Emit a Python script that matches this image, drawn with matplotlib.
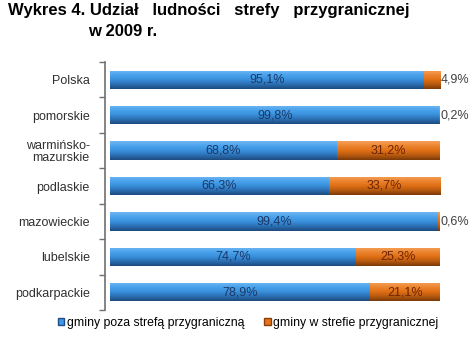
import matplotlib.pyplot as plt
import numpy as np
from matplotlib.colors import LinearSegmentedColormap
from matplotlib.patches import Patch

categories = ["Polska", "pomorskie", "warmińsko-\nmazurskie", "podlaskie",
              "mazowieckie", "lubelskie", "podkarpackie"]
outside_zone = [95.1, 99.8, 68.8, 66.3, 99.4, 74.7, 78.9]
inside_zone = [4.9, 0.2, 31.2, 33.7, 0.6, 25.3, 21.1]
series_names = ["gminy poza strefą przygraniczną", "gminy w strefie przygranicznej"]

plt.rcParams['font.family'] = ['Liberation Sans', 'DejaVu Sans']

fig = plt.figure(figsize=(4.74, 3.54), dpi=100)
ax = fig.add_axes([105/474, 1-310/354, (470-105)/474, (310-62)/354])

y = np.arange(len(categories))
h = 0.52
blue = '#3f98e6'
blue_dk = '#1f4f86'
orange = '#e5741a'
orange_dk = '#8a3f08'

cmap_blue = LinearSegmentedColormap.from_list('b', ['#6fb6f2', '#4aa3ec', '#3a90dc', '#2a6fb3', '#1d4a7e'])
cmap_orange = LinearSegmentedColormap.from_list('o', ['#f5a05a', '#ec8630', '#e06f15', '#b85a10', '#7a3a08'])

bars1 = ax.barh(y, outside_zone, height=h, left=0, color=blue, edgecolor='none', linewidth=0, zorder=2)
bars2 = ax.barh(y, inside_zone, height=h, left=outside_zone, color=orange, edgecolor='none', linewidth=0, zorder=2)

grad = np.linspace(0, 1, 64).reshape(-1, 1)
for bars, cmap in ((bars1, cmap_blue), (bars2, cmap_orange)):
    for p in bars:
        x0, y0 = p.get_x(), p.get_y()
        w, hh = p.get_width(), p.get_height()
        im = ax.imshow(grad, cmap=cmap, aspect='auto', extent=(x0, x0 + w, y0 + hh, y0),
                       origin='upper', zorder=2.5, interpolation='bilinear')
        im.set_clip_path(p)

def fmt(v):
    return f"{v:.1f}%".replace('.', ',')

for i in range(len(categories)):
    a, b = outside_zone[i], inside_zone[i]
    ax.text(a/2, y[i], fmt(a), ha='center', va='center', fontsize=9, color='#1c3866', zorder=4)
    if b >= 10:
        ax.text(a + b/2, y[i], fmt(b), ha='center', va='center', fontsize=9, color='#6e2504', zorder=4)
    else:
        ax.text(a + b + 0.3, y[i], fmt(b), ha='left', va='center', fontsize=9, color='#404040', zorder=4)

ax.set_xlim(-1.5, (470-110)/3.3)
ax.set_ylim(len(categories)-0.5, -0.5)
ax.set_yticks(y)
ax.set_yticklabels(categories, fontsize=9, color='#303030', linespacing=1.0)
ax.set_yticks(np.arange(-0.5, len(categories)), minor=True)
ax.tick_params(axis='y', which='major', length=0, pad=11)
ax.tick_params(axis='y', which='minor', length=4, color='#707070', width=1)
ax.set_xticks([])
for s in ['top', 'right', 'bottom']:
    ax.spines[s].set_visible(False)
ax.spines['left'].set_color('#707070')
ax.spines['left'].set_linewidth(1.2)

fig.text(8/474, 1-11/354, "Wykres 4. Udział   ludności   strefy   przygranicznej",
         fontsize=12, fontweight='bold', ha='left', va='center')
fig.text(88/474, 1-31/354, "w 2009 r.", fontsize=12, fontweight='bold', ha='left', va='center')

handles = [Patch(facecolor=blue, edgecolor=blue_dk), Patch(facecolor=orange, edgecolor=orange_dk)]
fig.legend(handles, series_names, loc='center', bbox_to_anchor=(248/474, 1-323/354), ncol=2,
           frameon=False, fontsize=8.8, handlelength=0.55, handleheight=0.55, handletextpad=0.2,
           columnspacing=1.6)

fig.savefig('out.png', dpi=100)
